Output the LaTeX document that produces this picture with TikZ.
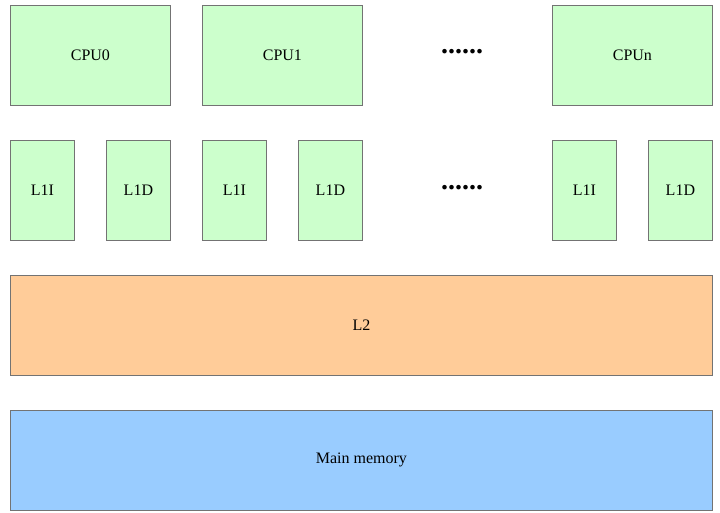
\documentclass[tikz,border=0pt]{standalone}
\usepackage{fontspec}
\setmainfont{Liberation Serif}
\definecolor{gr}{RGB}{204,255,204}
\definecolor{or}{RGB}{255,204,153}
\definecolor{bl}{RGB}{153,204,255}
\begin{document}
\begin{tikzpicture}[x=1pt,y=-1pt,font=\fontsize{16}{19}\selectfont,
 box/.style={draw=black!55,line width=0.8pt,anchor=north west,inner sep=0pt},
 g/.style={box,fill=gr},
 l1/.style={g,minimum width=64pt,minimum height=100pt},
 cpu/.style={g,minimum width=160pt,minimum height=100pt},
 wide/.style={box,minimum width=702pt,minimum height=100pt},
 dots/.style={font=\fontsize{28}{28}\selectfont\bfseries}]
\useasboundingbox (0,0) rectangle (720,512);
\node[cpu] (c0) at (10,5) {};
\node at (c0.center) {CPU0};
\node[cpu] (c1) at (202,5) {};
\node at (c1.center) {CPU1};
\node[cpu] (cn) at (552,5) {};
\node at (cn.center) {CPUn};
\node[dots] (d1) at (462,52) {......};
\node[l1] (a1) at (10,140) {}; \node at (a1.center) {L1I};
\node[l1] (b1) at (106,140) {}; \node at (b1.center) {L1D};
\node[l1] (a2) at (202,140) {}; \node at (a2.center) {L1I};
\node[l1] (b2) at (298,140) {}; \node at (b2.center) {L1D};
\node[l1] (a3) at (552,140) {}; \node at (a3.center) {L1I};
\node[l1] (b3) at (648,140) {}; \node at (b3.center) {L1D};
\node[dots] (d2) at (462,188) {......};
\node[wide,fill=or] (l2) at (10,275) {}; \node at (l2.center) {L2};
\node[wide,fill=bl] (mm) at (10,410) {}; \node at (mm.center) {Main memory};
\end{tikzpicture}
\end{document}
